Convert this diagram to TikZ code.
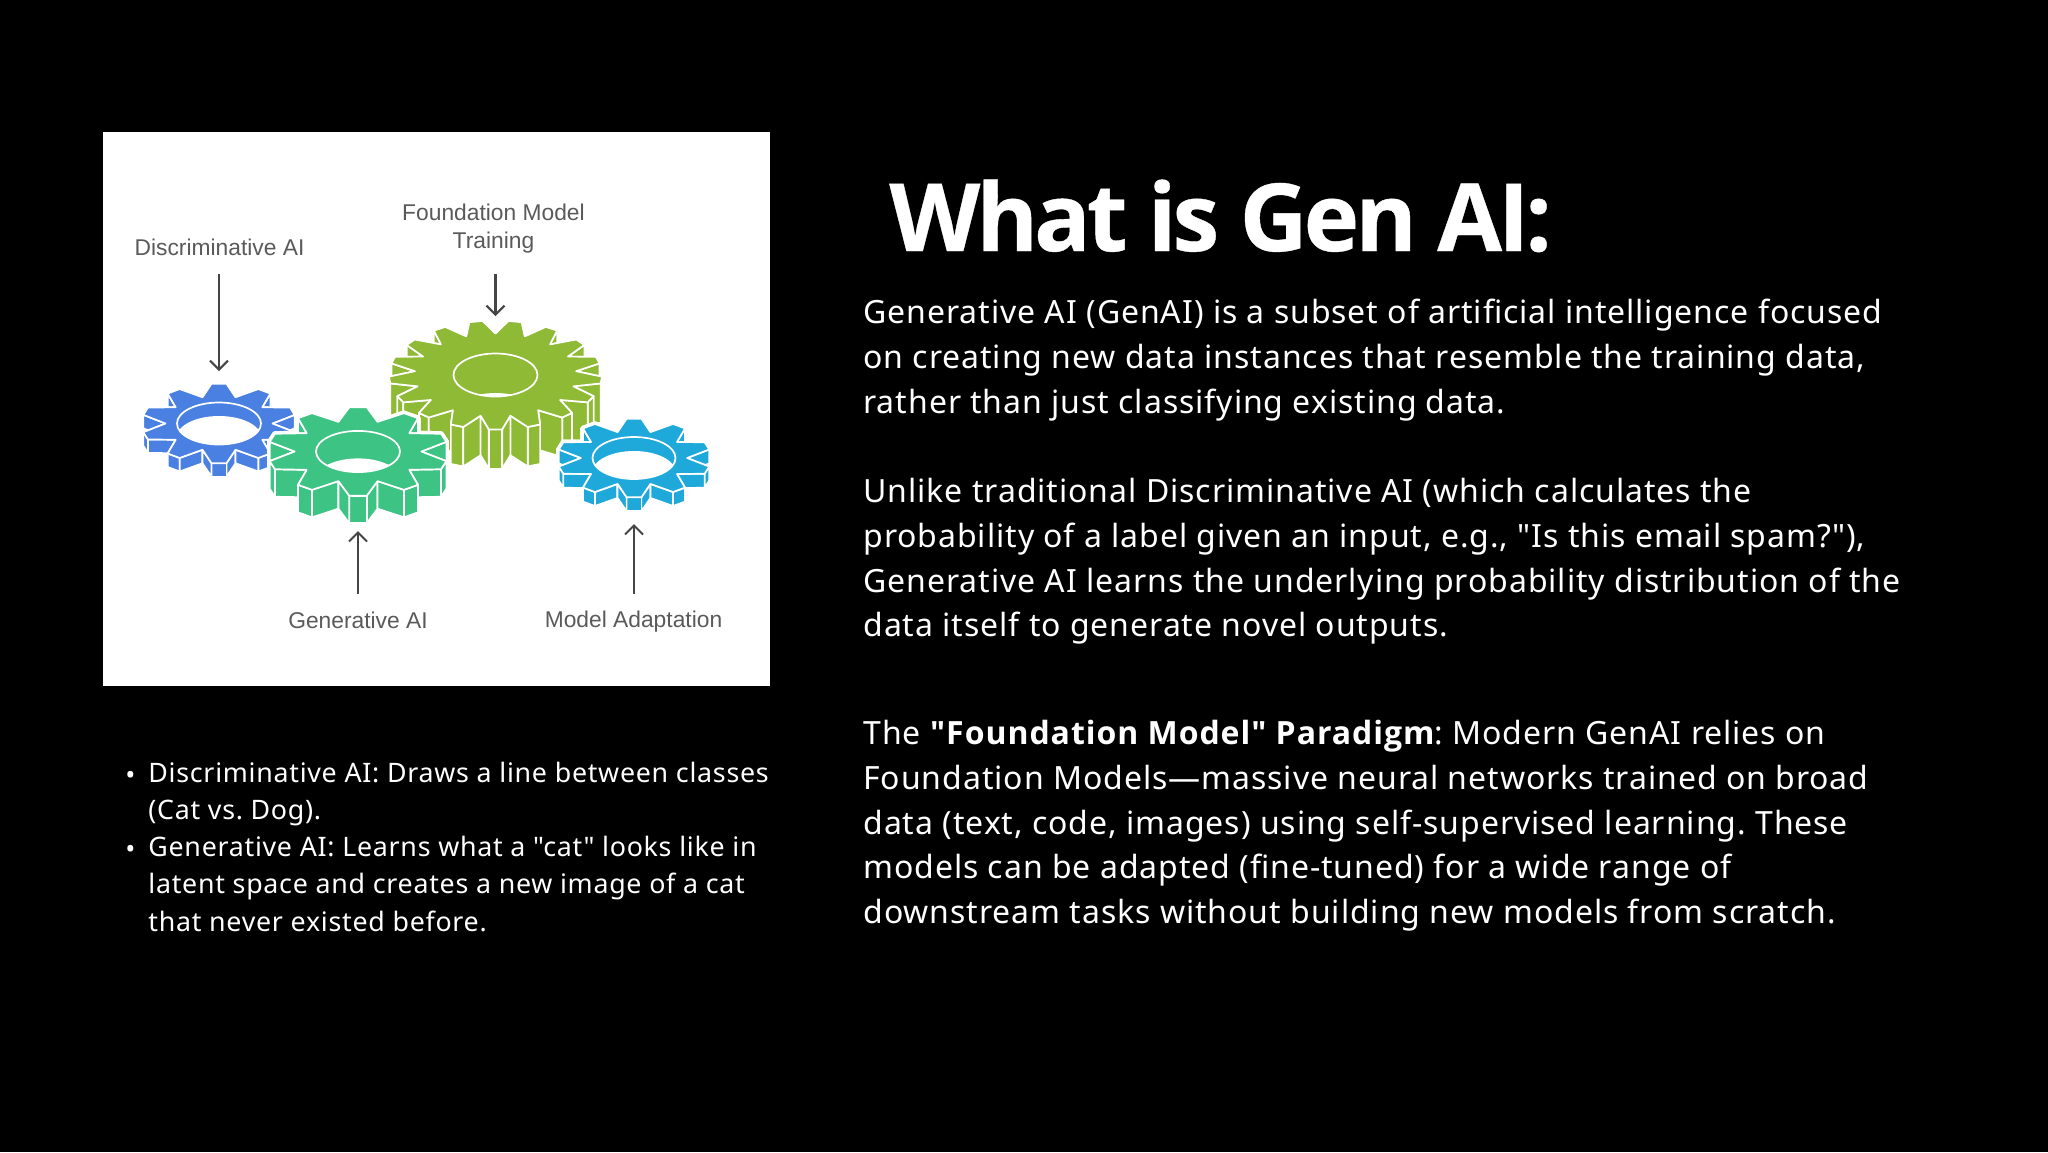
\documentclass[tikz,border=0pt]{standalone}
\usepackage{fontspec}
\usetikzlibrary{arrows.meta}
\setmainfont{Noto Sans}
\newfontfamily\boldbody[LetterSpace=3.0]{Open Sans}
\newfontfamily\bodyfont[LetterSpace=2.95]{Noto Sans}
\newfontfamily\sidefont[LetterSpace=2.7]{Noto Sans}
\newfontfamily\titlefont[LetterSpace=-4.3,FakeBold=0.4]{Open Sans}
\newfontfamily\labelfont{Liberation Sans}
\definecolor{gearblue}{HTML}{4A80E2}
\definecolor{geargreen}{HTML}{3DC383}
\definecolor{gearlime}{HTML}{8FBA35}
\definecolor{gearcyan}{HTML}{1FA9DB}
\definecolor{labelgray}{HTML}{5A5A5A}
\definecolor{arrowgray}{HTML}{454545}
\tikzset{
  bodytext/.style={anchor=north west,inner sep=0pt,align=left,text=white,font=\bodyfont\frenchspacing\fontsize{16}{22.35}\selectfont},
  sidetext/.style={anchor=north west,inner sep=0pt,align=left,text=white,font=\sidefont\frenchspacing\fontsize{13.4}{18.6}\selectfont},
  titletext/.style={anchor=base west,inner sep=0pt,text=white,font=\titlefont\bfseries\fontsize{47}{50}\selectfont},
  difflabel/.style={inner sep=0pt,align=center,text=labelgray,font=\labelfont\fontsize{11.4}{14.3}\selectfont},
  pointer/.style={draw=arrowgray,line width=1.05pt,-{Straight Barb[length=4.5pt,width=9pt,line width=1.05pt]}},
  gearline/.style={draw=white,line width=0.85pt,line join=round},
  gearhalo/.style={draw=white,fill=white,line width=2.6pt,line join=round}
}
% index, x-macro, y-macro
\def\gearP#1#2#3{%
  \pgfmathtruncatemacro\gearM{#1+3*\gearN}%
  \pgfmathtruncatemacro\gearK{floor(\gearM/3)}%
  \pgfmathtruncatemacro\gearQ{\gearM-3*\gearK}%
  \pgfmathsetmacro\gearAng{\gearA+\gearK*\gearPitch+ifthenelse(\gearQ==0,-\gearD,ifthenelse(\gearQ==1,\gearD,\gearPitch/2))}%
  \pgfmathsetmacro\gearRho{ifthenelse(\gearQ==2,\gearRoot,1)}%
  \pgfmathsetmacro#2{\gearX+\gearRX*\gearRho*cos(\gearAng)}%
  \pgfmathsetmacro#3{\gearY-\gearRY*\gearRho*sin(\gearAng)}%
}
\def\gearWall#1#2{%
  \gearP{#1}{\gearXa}{\gearYa}%
  \pgfmathtruncatemacro\gearNext{#1+1}%
  \gearP{\gearNext}{\gearXb}{\gearYb}%
  \pgfmathsetmacro\gearYc{\gearYb+\gearDepth}%
  \pgfmathsetmacro\gearYd{\gearYa+\gearDepth}%
  \path[#2] (\gearXa,\gearYa)--(\gearXb,\gearYb)--(\gearXb,\gearYc)--(\gearXa,\gearYd)--cycle;%
}
\def\gearWalls#1{%
  \foreach \gearJ in {0,...,\gearHalf}{%
    \pgfmathtruncatemacro\gearU{\gearStart+\gearJ}%
    \pgfmathtruncatemacro\gearV{\gearStart-1-\gearJ}%
    \gearWall{\gearU}{#1}%
    \gearWall{\gearV}{#1}%
  }%
}
% cx cy rx ry depth teeth firstangle tiphalf root start colour holerx holery
\newcommand\drawgear[9]{%
  \def\gearX{#1}\def\gearY{#2}\def\gearRX{#3}\def\gearRY{#4}\def\gearDepth{#5}%
  \def\gearN{#6}\def\gearA{#7}\def\gearD{#8}\def\gearRoot{#9}%
  \drawgearrest
}
\newcommand\drawgearrest[4]{%
  \pgfmathsetmacro\gearPitch{360/\gearN}%
  \pgfmathtruncatemacro\gearLast{3*\gearN-1}%
  \pgfmathtruncatemacro\gearHalf{3*\gearN/2+1}%
  \def\gearStart{#1}%
  \gdef\gearPath{}%
  \foreach \gearI in {0,...,\gearLast}{%
    \gearP{\gearI}{\gearXa}{\gearYa}%
    \xdef\gearPath{\gearPath (\gearXa,\gearYa) --}%
  }%
  \gearWalls{gearhalo}%
  \path[gearhalo] \gearPath cycle;%
  \gearWalls{gearline,fill=#2}%
  \path[gearline,fill=#2] \gearPath cycle;%
  \begin{scope}
    \clip (\gearX,\gearY) ellipse [x radius=#3,y radius=#4];
    \pgfmathsetmacro\gearYd{\gearY+\gearDepth}%
    \fill[white] (\gearX,\gearYd) ellipse [x radius=#3,y radius=#4];
  \end{scope}
  \draw[gearline] (\gearX,\gearY) ellipse [x radius=#3,y radius=#4];
}
\begin{document}
\begin{tikzpicture}[x=0.5pt,y=-0.5pt]
\useasboundingbox (0,0) rectangle (2048,1152);
\fill[black] (0,0) rectangle (2048,1152);
\fill[white] (102.5,132) rectangle (770,686);

\drawgear{495.5}{375}{106.5}{54.5}{39.5}{17}{79.41}{3.6}{0.76}{2}{gearlime}{42}{21.5}
\drawgear{219}{423.5}{77.5}{40}{13.5}{10}{90}{5.5}{0.69}{1}{gearblue}{42}{21}
\drawgear{358}{451.5}{90.5}{44.5}{27.5}{10}{90}{5.5}{0.7}{1}{geargreen}{42}{20.6}
\drawgear{634}{458}{77}{39.5}{14}{10}{90}{5.5}{0.69}{1}{gearcyan}{41.5}{21}

\coordinate (discTip) at (219,371);
\coordinate (foundTip) at (495.5,316);
\coordinate (genTip) at (358,531);
\coordinate (adaptTip) at (634,524);
\coordinate (discTail) at (219,274);
\coordinate (foundTail) at (495.5,274);
\coordinate (genTail) at (358,594);
\coordinate (adaptTail) at (634,594);

\node[difflabel] (discLabel) at (219.5,247) {Discriminative AI};
\node[difflabel] (foundLabel) at (493.5,228.5) {Foundation Model\\Training};
\node[difflabel] (genLabel) at (358,620) {Generative AI};
\node[difflabel] (adaptLabel) at (633.5,622) {Model Adaptation};

\draw[pointer] (discTail) -- (discTip);
\draw[pointer] (foundTail) -- (foundTip);
\draw[pointer] (genTail) -- (genTip);
\draw[pointer] (adaptTail) -- (adaptTip);

\node[titletext] (title) at (889,251) {What is Gen AI:};

\node[bodytext] (paraA) at (863,299) {Generative AI (GenAI) is a subset of artificial intelligence focused\\on creating new data instances that resemble the training data,\\rather than just classifying existing data.};
\node[bodytext] (paraB) at (863,478) {Unlike traditional Discriminative AI (which calculates the\\probability of a label given an input, e.g., "Is this email spam?"),\\Generative AI learns the underlying probability distribution of the\\data itself to generate novel outputs.};
\node[bodytext] (paraC) at (863,720) {The {\boldbody\bfseries "Foundation Model" Paradigm}: Modern GenAI relies on\\Foundation Models—massive neural networks trained on broad\\data (text, code, images) using self-supervised learning. These\\models can be adapted (fine-tuned) for a wide range of\\downstream tasks without building new models from scratch.};

\node[sidetext] (bulletA) at (125,771) {•};
\node[sidetext] (sideA) at (148,762) {Discriminative AI: Draws a line between classes\\(Cat vs. Dog).};
\node[sidetext] (bulletB) at (125,845) {•};
\node[sidetext] (sideB) at (148,836) {Generative AI: Learns what a "cat" looks like in\\latent space and creates a new image of a cat\\that never existed before.};
\end{tikzpicture}
\end{document}
